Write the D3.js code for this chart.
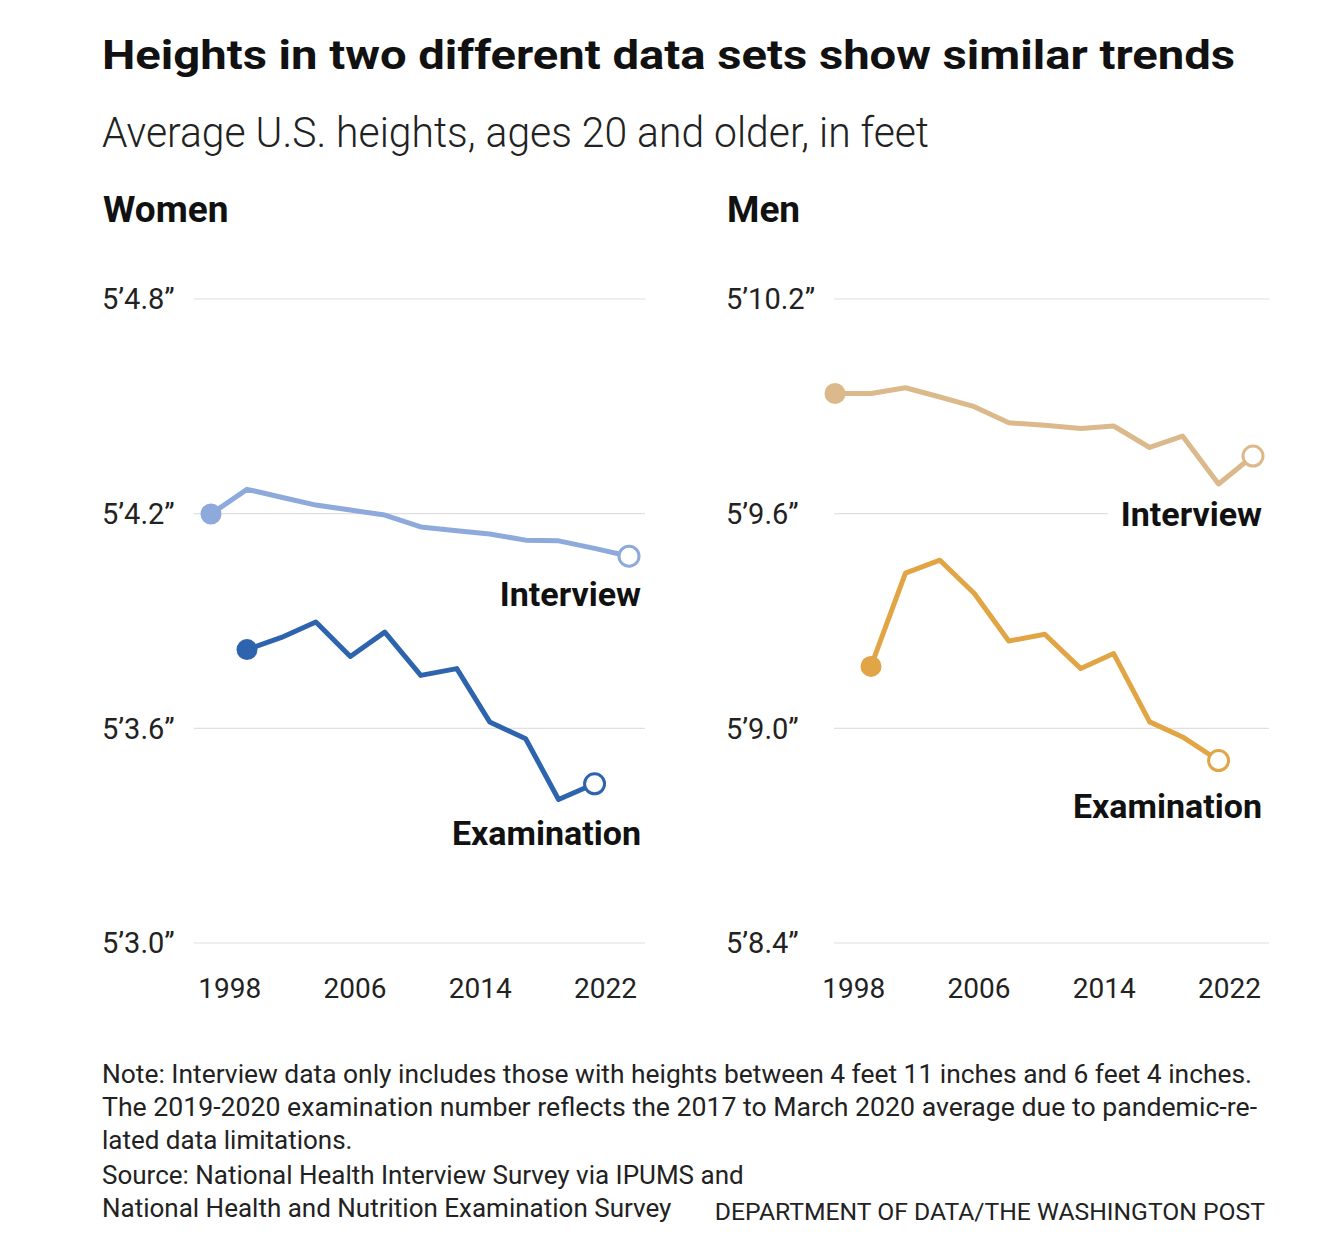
<!DOCTYPE html>
<html><head><meta charset="utf-8">
<script src="https://cdn.jsdelivr.net/npm/d3@7"></script>
<style>
body{margin:0;background:#fff;}
svg text{font-family:Roboto,"Liberation Sans",sans-serif;}
</style>
</head><body>
<svg id="chart" width="1332" height="1260"></svg>
<script>
// ---- data (average heights in inches) ----
const interviewYears = [1996.8, 1999.1, 2001.3, 2003.5, 2005.7, 2007.9, 2010.2, 2012.5, 2014.6, 2016.9, 2019.0, 2021.3, 2023.5];
const examYears      = [1999.1, 2001.3, 2003.5, 2005.7, 2007.9, 2010.2, 2012.5, 2014.6, 2016.9, 2019.0, 2021.3];
const womenInterview = [64.199, 64.268, 64.246, 64.224, 64.210, 64.196, 64.163, 64.152, 64.143, 64.126, 64.124, 64.103, 64.081];
const womenExam      = [63.820, 63.854, 63.897, 63.801, 63.869, 63.748, 63.767, 63.618, 63.571, 63.401, 63.445];
const menInterview   = [69.936, 69.936, 69.952, 69.926, 69.899, 69.854, 69.847, 69.838, 69.845, 69.785, 69.817, 69.683, 69.761];
const menExam        = [69.173, 69.434, 69.470, 69.377, 69.244, 69.263, 69.167, 69.209, 69.018, 68.976, 68.910];
const xTicks = [1998, 2006, 2014, 2022];
const womenYTicks = [63.0, 63.6, 64.2, 64.8];
const womenYLabels = ["5\u20193.0\u201D", "5\u20193.6\u201D", "5\u20194.2\u201D", "5\u20194.8\u201D"];
const menYTicks = [68.4, 69.0, 69.6, 70.2];
const menYLabels = ["5\u20198.4\u201D", "5\u20199.0\u201D", "5\u20199.6\u201D", "5\u201910.2\u201D"];
const seriesNames = ["Interview", "Examination"];
const panelTitles = ["Women", "Men"];
// label anchor values (inches) for series labels
const womenLabelAt = [63.941, 63.273];
const menLabelAt = [69.565, 68.748];

const colors = {
  Women: {Interview: "#8ea9db", Examination: "#2d64ad"},
  Men:   {Interview: "#dbb98b", Examination: "#e1a546"}
};

const svg = d3.select("#chart");

// titles
svg.append("text").attr("x", 102).attr("y", 69)
  .attr("font-size", 41).attr("font-weight", 700).attr("fill", "#111")
  .attr("textLength", 1133).attr("lengthAdjust", "spacingAndGlyphs")
  .text("Heights in two different data sets show similar trends");
svg.append("text").attr("x", 102).attr("y", 147)
  .attr("font-size", 42).attr("font-weight", 300).attr("fill", "#222")
  .attr("textLength", 827).attr("lengthAdjust", "spacingAndGlyphs")
  .text("Average U.S. heights, ages 20 and older, in feet");

const panels = [
  {name: panelTitles[0], x0: 102, yTicks: womenYTicks, yLabels: womenYLabels, labelDx: -4,
   series: [{key: seriesNames[0], years: interviewYears, values: womenInterview, labelAt: womenLabelAt[0]},
            {key: seriesNames[1], years: examYears, values: womenExam, labelAt: womenLabelAt[1]}]},
  {name: panelTitles[1], x0: 726, yTicks: menYTicks, yLabels: menYLabels, labelDx: -7,
   series: [{key: seriesNames[0], years: interviewYears, values: menInterview, labelAt: menLabelAt[0]},
            {key: seriesNames[1], years: examYears, values: menExam, labelAt: menLabelAt[1]}]}
];

panels.forEach(p => {
  const g = svg.append("g");
  g.append("text").attr("x", p.x0 + 1).attr("y", 222)
    .attr("font-size", 37).attr("font-weight", 700).attr("fill", "#111")
    .text(p.name);

  const x = d3.scaleLinear().domain(d3.extent(interviewYears)).range([p.x0 + 109, p.x0 + 527]);
  const y = d3.scaleLinear().domain(d3.extent(p.yTicks)).range([943, 299]);

  // y labels
  const yl = g.selectAll("text.ylab").data(p.yTicks).join("text")
    .attr("class", "ylab")
    .attr("x", p.x0).attr("y", d => y(d)).attr("dy", "0.36em")
    .attr("font-size", 29).attr("fill", "#222")
    .text((d, i) => p.yLabels[i]);
  const maxW = d3.max(yl.nodes(), n => n.getComputedTextLength());
  const gx0 = p.x0 + maxW + 19, gx1 = p.x0 + 543;
  g.selectAll("line.grid").data(p.yTicks).join("line")
    .attr("class", "grid")
    .attr("x1", gx0).attr("x2", gx1)
    .attr("y1", d => y(d)).attr("y2", d => y(d))
    .attr("stroke", "#e0e0e0").attr("stroke-width", 1.2);

  // x axis labels
  g.selectAll("text.xlab").data(xTicks).join("text")
    .attr("class", "xlab")
    .attr("x", d => x(d)).attr("y", 998)
    .attr("text-anchor", "middle")
    .attr("font-size", 28).attr("fill", "#222")
    .text(d => d);

  // series labels (drawn before lines, with white halo)
  p.series.forEach(s => {
    g.append("text")
      .attr("x", gx1 + p.labelDx).attr("y", y(s.labelAt))
      .attr("text-anchor", "end")
      .attr("font-size", 34).attr("font-weight", 700).attr("fill", "#111")
      .attr("stroke", "#fff").attr("stroke-width", 30).attr("stroke-linejoin", "round")
      .attr("paint-order", "stroke")
      .text(s.key);
  });

  const line = d3.line().x(d => x(d[0])).y(d => y(d[1]));
  p.series.forEach(s => {
    const pts = s.years.map((yr, i) => [yr, s.values[i]]);
    const c = colors[p.name][s.key];
    g.append("path").datum(pts)
      .attr("d", line).attr("fill", "none")
      .attr("stroke", c).attr("stroke-width", 5)
      .attr("stroke-linejoin", "round").attr("stroke-linecap", "round");
    const first = pts[0], last = pts[pts.length - 1];
    g.append("circle").attr("cx", x(first[0])).attr("cy", y(first[1])).attr("r", 10.5).attr("fill", c);
    g.append("circle").attr("cx", x(last[0])).attr("cy", y(last[1])).attr("r", 10)
      .attr("fill", "#fff").attr("stroke", c).attr("stroke-width", 3);
  });
});

// notes
const notes = [
  "Note: Interview data only includes those with heights between 4 feet 11 inches and 6 feet 4 inches.",
  "The 2019-2020 examination number reflects the 2017 to March 2020 average due to pandemic-re-",
  "lated data limitations."
];
const sources = [
  "Source: National Health Interview Survey via IPUMS and",
  "National Health and Nutrition Examination Survey"
];
const credit = "DEPARTMENT OF DATA/THE WASHINGTON POST";
const noteW = [1150, 1155, null];
notes.forEach((t, i) => {
  const el = svg.append("text").attr("x", 102).attr("y", 1083 + i * 33)
    .attr("font-size", 26).attr("fill", "#222").text(t);
  if (noteW[i]) el.attr("textLength", noteW[i]).attr("lengthAdjust", "spacingAndGlyphs");
});
sources.forEach((t, i) => {
  svg.append("text").attr("x", 102).attr("y", 1184 + i * 33)
    .attr("font-size", 26).attr("fill", "#222").text(t);
});
svg.append("text").attr("x", 1265).attr("y", 1220).attr("text-anchor", "end")
  .attr("font-size", 24.7).attr("fill", "#222").text(credit);
</script>
</body></html>
